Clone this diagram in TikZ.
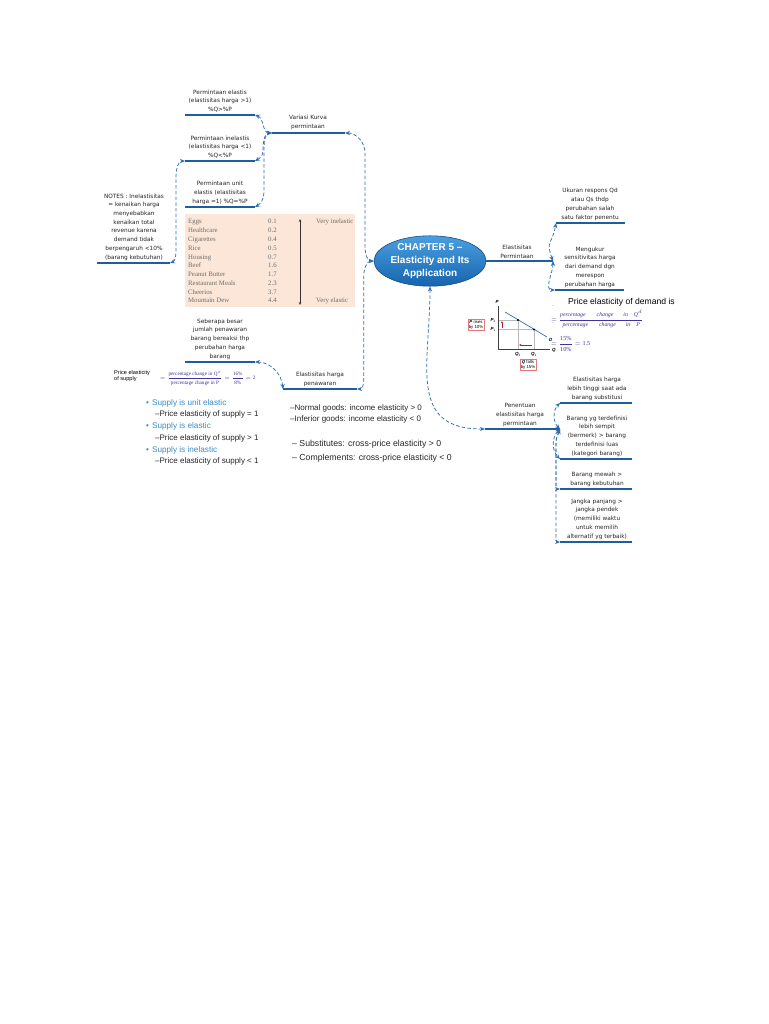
\documentclass[tikz,border=0pt]{standalone}
\usepackage{fontspec}
\setmainfont{Liberation Sans}
\newfontfamily\mmfam{DejaVu Sans}
\newfontfamily\serif{Liberation Serif}
\usetikzlibrary{arrows.meta,shapes.geometric}
\definecolor{lineblue}{HTML}{1F5E9E}
\definecolor{connblue}{HTML}{2F6FB5}
\definecolor{peach}{HTML}{FBE6D8}
\definecolor{tabgray}{HTML}{6E6E6E}
\definecolor{bullblue}{HTML}{3A8DC8}
\definecolor{formcol}{HTML}{3F3399}
\definecolor{boxred}{HTML}{E07A7A}
\definecolor{arrred}{HTML}{B22222}
\definecolor{ellTop}{HTML}{4A9FE0}
\definecolor{ellBot}{HTML}{1664AE}
\newcommand\mmfont{\mmfam\fontsize{5.8}{8.7}\selectfont}
\newcommand\tabfont{\serif\fontsize{6.8}{7}\selectfont}
\begin{document}
\begin{tikzpicture}[x=1pt,y=-1pt,
 mm/.style={font=\mmfont, align=center, inner sep=0pt, anchor=south, text=black!85},
 ul/.style={draw=lineblue, line width=1.6pt},
 mainul/.style={draw=lineblue, line width=2.4pt},
 conn/.style={draw=connblue, line width=0.75pt, dash pattern=on 3.5pt off 2.2pt, {Stealth[length=5pt,width=4.2pt]}-{Stealth[length=5pt,width=4.2pt]}},
 tab/.style={font=\tabfont, text=tabgray, inner sep=0pt, anchor=base west},
 bul/.style={font=\fontsize{8.2}{9}\selectfont, text=bullblue, inner sep=0pt, anchor=base west},
 subl/.style={font=\fontsize{8}{9}\selectfont, text=black!85, inner sep=0pt, anchor=base west},
 redbox/.style={draw=boxred, line width=0.4pt, fill=white, font=\fontsize{4.3}{5}\selectfont, align=center, inner sep=1pt},
 glab/.style={font=\fontsize{4.5}{5}\selectfont, inner sep=0pt},
]
\useasboundingbox (0,0) rectangle (768,1024);
\fill[white] (0,0) rectangle (768,1024);

% ---------- coordinates of underlines ----------
\coordinate (pe-l) at (185,115); \coordinate (pe-r) at (255,115);
\coordinate (pi-l) at (185,161); \coordinate (pi-r) at (255,161);
\coordinate (pu-l) at (185,207); \coordinate (pu-r) at (255,207);
\coordinate (vk-l) at (272,133); \coordinate (vk-r) at (345,133);
\coordinate (nt-l) at (97,263);  \coordinate (nt-r) at (170,263);
\coordinate (sb-l) at (185,362); \coordinate (sb-r) at (255,362);
\coordinate (pw-l) at (283,389); \coordinate (pw-r) at (357,389);
\coordinate (ep-r) at (553,261);
\coordinate (uk-l) at (556,223); \coordinate (uk-r) at (625,223);
\coordinate (mg-l) at (555,290); \coordinate (mg-r) at (624,290);
\coordinate (pn-l) at (485,429); \coordinate (pn-r) at (560,429);
\coordinate (s1-l) at (560,403); \coordinate (s1-r) at (632,403);
\coordinate (s2-l) at (560,459); \coordinate (s2-r) at (632,459);
\coordinate (s3-l) at (560,489); \coordinate (s3-r) at (632,489);
\coordinate (s4-l) at (560,542); \coordinate (s4-r) at (632,542);

% ---------- central node ----------
\node[ellipse, minimum width=112pt, minimum height=47pt, inner sep=0pt,
      draw=lineblue!80!black, line width=0.6pt, top color=ellTop, bottom color=ellBot,
      text=white, font=\fontsize{10}{13.3}\selectfont\bfseries, align=center]
      (ch) at (430,261) {CHAPTER 5 –\\Elasticity and Its\\Application};

% ---------- underlines ----------
\draw[ul] (pe-l) -- (pe-r);
\draw[ul] (pi-l) -- (pi-r);
\draw[ul] (pu-l) -- (pu-r);
\draw[mainul] (vk-l) -- (vk-r);
\draw[ul] (nt-l) -- (nt-r);
\draw[ul] (sb-l) -- (sb-r);
\draw[mainul] (pw-l) -- (pw-r);
\draw[ul] (ch.east) -- (ep-r);
\draw[ul] (uk-l) -- (uk-r);
\draw[ul] (mg-l) -- (mg-r);
\draw[mainul] (pn-l) -- (pn-r);
\draw[ul] (s1-l) -- (s1-r);
\draw[ul] (s2-l) -- (s2-r);
\draw[ul] (s3-l) -- (s3-r);
\draw[ul] (s4-l) -- (s4-r);

% ---------- texts ----------
\node[mm] (pe) at (220,112.5) {Permintaan elastis\\(elastisitas harga >1)\\\%Q>\%P};
\node[mm] (pi) at (220,158.5) {Permintaan inelastis\\(elastisitas harga <1)\\\%Q<\%P};
\node[mm] (pu) at (220,204.5) {Permintaan unit\\elastis (elastisitas\\harga =1) \%Q=\%P};
\node[mm] (vk) at (308,130) {Variasi Kurva\\permintaan};
\node[mm] (nt) at (134,260.5) {NOTES : Inelastisitas\\= kenaikan harga\\menyebabkan\\kenaikan total\\revenue karena\\demand tidak\\berpengaruh <10\%\\(barang kebutuhan)};
\node[mm] (sb) at (220,359.5) {Seberapa besar\\jumlah penawaran\\barang bereaksi thp\\perubahan harga\\barang};
\node[mm] (pwt) at (320,386.5) {Elastisitas harga\\penawaran};
\node[mm] (ept) at (517,258.5) {Elastisitas\\Permintaan};
\node[mm] (uk) at (590,220.5) {Ukuran respons Qd\\atau Qs thdp\\perubahan salah\\satu faktor penentu};
\node[mm] (mg) at (590,287.5) {Mengukur\\sensitivitas harga\\dari demand dgn\\merespon\\perubahan harga};
\node[mm] (pnt) at (520,426.5) {Penentuan\\elastisitas harga\\permintaan};
\node[mm] (s1t) at (597,400.5) {Elastisitas harga\\lebih tinggi saat ada\\barang substitusi};
\node[mm] (s2t) at (597,456.5) {Barang yg terdefinisi\\lebih sempit\\(bermerk) > barang\\terdefinisi luas\\(kategori barang)};
\node[mm] (s3t) at (597,486.5) {Barang mewah >\\barang kebutuhan};
\node[mm] (s4t) at (597,539.5) {Jangka panjang >\\jangka pendek\\(memiliki waktu\\untuk memilih\\alternatif yg terbaik)};

% ---------- connectors ----------
\draw[conn] (pe-r) to[out=-20,in=180] (vk-l);
\draw[conn] (pi-r) to[out=30,in=-90] ++(8,-10) to[out=90,in=180] (vk-l);
\draw[conn] (pu-r) to[out=30,in=-90] ++(9,-15) -- ++(0,-45) to[out=90,in=180] (vk-l);
\draw[conn] (nt-r) to[out=20,in=-90] ++(6,-12) -- ++(0,-75) to[out=90,in=180] (pi-l);
\draw[conn] (vk-r) to[out=0,in=90] ++(20,20) -- ++(0,92) to[out=-90,in=180] (ch.west);
\draw[conn] (ch.west) to[out=180,in=90] ++(-10,16) -- ++(0,95) to[out=-90,in=0] (pw-r);
\draw[conn] (pw-l) to[out=95,in=0] (sb-r);
\draw[conn] (ep-r) to[out=110,in=-100,looseness=1.5] (uk-l);
\draw[conn] (ep-r) to[out=-90,in=180] (mg-l);
\draw[conn] (ch.south) to[out=-90,in=180,looseness=1.3] (pn-l);
\draw[conn] (pn-r) to[out=135,in=-135] (s1-l);
\draw[conn] (pn-r) to[out=-135,in=135] (s2-l);
\draw[conn] (pn-r) to[out=-110,in=90] ++(-4,14) -- ++(0,36) to[out=-90,in=180] (s3-l);
\draw[conn] (pn-r) to[out=-110,in=90] ++(-4,14) -- ++(0,89) to[out=-90,in=180] (s4-l);

% ---------- table ----------
\fill[peach] (185,214) rectangle (355,307);
\foreach \n/\v [count=\i from 0] in {Eggs/0.1, Healthcare/0.2, Cigarettes/0.4, Rice/0.5, Housing/0.7, Beef/1.6, Peanut Butter/1.7, Restaurant Meals/2.3, Cheerios/3.7, Mountain Dew/4.4} {
  \node[tab] (tn\i) at (188,{224+8.75*\i}) {\n};
  \node[tab] (tv\i) at (268,{224+8.75*\i}) {\v};
}
\coordinate (ta-t) at (300,219);
\coordinate (ta-b) at (300,305);
\draw[{Stealth[length=3pt,width=2.5pt]}-{Stealth[length=3pt,width=2.5pt]}, line width=0.5pt, black!80] (ta-t) -- (ta-b);
\node[tab] (vin) at (316,224) {Very inelastic};
\node[tab] (vel) at (316,302.75) {Very elastic};

% ---------- supply formula ----------
\node[font=\fontsize{5.6}{6.5}\selectfont, align=left, anchor=north west, inner sep=0pt] (pes) at (114,370) {Price elasticity\\of supply};
\node[anchor=west, inner sep=0pt, text=formcol, font=\serif\fontsize{5.2}{6}\selectfont] (fs) at (160,378.5)
  {$=\displaystyle\frac{\mbox{percentage change in Q}^{s}}{\mbox{percentage change in P}}=\frac{\mbox{16\%}}{\mbox{8\%}}=\mbox{2}$};

% ---------- supply bullets ----------
\node[bul] (b1) at (146,405) {•\hspace{3pt}Supply is unit elastic};
\node[subl] (d1) at (155,416.5) {–Price elasticity of supply = 1};
\node[bul] (b2) at (146,428.5) {•\hspace{3pt}Supply is elastic};
\node[subl] (d2) at (155,440) {–Price elasticity of supply > 1};
\node[bul] (b3) at (146,452) {•\hspace{3pt}Supply is inelastic};
\node[subl] (d3) at (155,463.5) {–Price elasticity of supply < 1};

% ---------- income / cross elasticity ----------
\node[subl] (ng) at (290,410) {–Normal goods: income elasticity > 0};
\node[subl] (ig) at (290,421) {–Inferior goods: income elasticity < 0};
\node[subl, font=\fontsize{8.7}{9}\selectfont] (sg) at (292,446) {– Substitutes: cross-price elasticity > 0};
\node[subl, font=\fontsize{8.7}{9}\selectfont] (cg) at (292,460) {– Complements: cross-price elasticity < 0};

% ---------- demand graph ----------
\coordinate (gP) at (498,306);
\coordinate (gO) at (498,349);
\coordinate (gQ) at (550,349);
\coordinate (gA) at (518,320);
\coordinate (gB) at (534,329.5);
\coordinate (gD1) at (505,312);
\coordinate (gD2) at (547,337);
\draw[gray!55, line width=0.3pt] (gA -| gO) -- (gA) -- (gA |- gO);
\draw[gray!55, line width=0.3pt] (gB -| gO) -- (gB) -- (gB |- gO);
\draw[black!75, line width=0.5pt] (gP) -- (gO) -- (gQ);
\draw[connblue, line width=0.7pt] (gD1) -- (gD2);
\fill (gA) circle (1.1pt);
\fill (gB) circle (1.1pt);
\node[glab] (lP) at (497,302) {\textbf{\textit{P}}};
\node[glab, anchor=east] (lP2) at (496,320) {\textbf{\textit{P}}\textsubscript{2}};
\node[glab, anchor=east] (lP1) at (496,329.5) {\textbf{\textit{P}}\textsubscript{1}};
\node[glab, anchor=west] (lD) at (549,340) {\textbf{\textit{D}}};
\node[glab, anchor=west] (lQ) at (552,350) {\textbf{\textit{Q}}};
\node[glab] (lQ2) at (518,354.5) {\textbf{\textit{Q}}\textsubscript{2}};
\node[glab] (lQ1) at (534,354.5) {\textbf{\textit{Q}}\textsubscript{1}};
\coordinate (ra1) at (502,328);
\coordinate (ra2) at (502,321);
\coordinate (rb1) at (532,345);
\coordinate (rb2) at (519,345);
\draw[arrred, line width=0.6pt, -{Stealth[length=2.5pt,width=2.2pt]}] (ra1) -- (ra2);
\draw[arrred, line width=0.6pt, -{Stealth[length=2.5pt,width=2.2pt]}] (rb1) -- (rb2);
\node[redbox] (bp) at (476,325) {\textbf{\textit{P}} rises\\by 10\%};
\node[redbox] (bq) at (528,365) {\textbf{\textit{Q}} falls\\by 15\%};

% ---------- demand formula ----------
\node[anchor=west, inner sep=0pt, font=\fontsize{8.6}{10}\selectfont] (ped) at (568,302) {Price elasticity of demand is};
\node[text=gray, font=\fontsize{5}{6}\selectfont, inner sep=0pt] (gd1) at (553,307) {-};
\node[text=gray, font=\fontsize{5}{6}\selectfont, inner sep=0pt] (gd2) at (553,324) {-};
\node[anchor=west, inner sep=0pt, text=formcol, font=\serif\itshape\fontsize{5.8}{7}\selectfont] (fd) at (551,319)
  {$=\displaystyle\frac{\mbox{percentage\hspace{11pt}change\hspace{10pt}in\hspace{6pt}Q}^{d}}{\mbox{percentage\hspace{11pt}change\hspace{10pt}in\hspace{6pt}P}}$};
\node[anchor=west, inner sep=0pt, text=formcol, font=\serif\fontsize{6.2}{7}\selectfont] (fr) at (551,344)
  {$=\displaystyle\frac{\mbox{15\%}}{\mbox{10\%}}=\mbox{1.5}$};
\end{tikzpicture}
\end{document}
